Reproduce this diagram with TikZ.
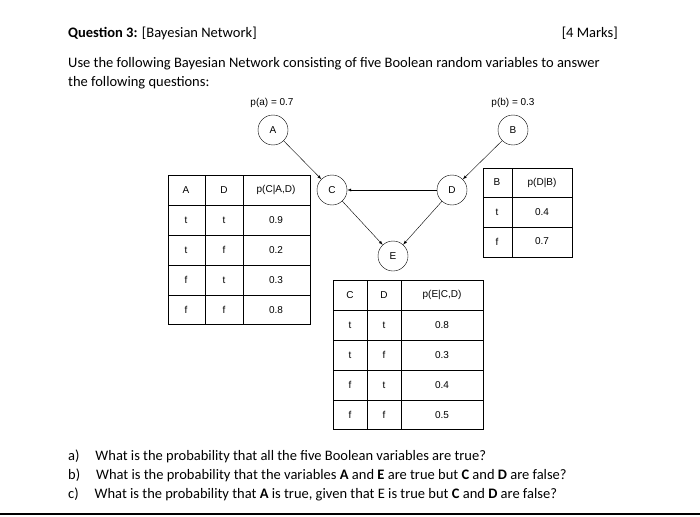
\documentclass[tikz,border=0pt]{standalone}
\usepackage{fontspec}
\setmainfont{Carlito}
\newfontfamily\arl{Liberation Sans}
\begin{document}
\begin{tikzpicture}[x=1pt,y=-1pt,
  nd/.style={draw,circle,minimum size=30pt,inner sep=0pt,font=\arl\fontsize{10}{12}\selectfont},
  tx/.style={font=\arl\fontsize{10}{12}\selectfont,inner sep=0pt},
  bt/.style={font=\fontsize{14.5}{17}\selectfont,anchor=base west,inner sep=0pt},
  ar/.style={-latex,thin}]
\useasboundingbox (0,0) rectangle (700,516);
\fill[white] (0,0) rectangle (700,516);
\node[bt] (t1) at (68,38) {\textbf{Question 3:} [Bayesian Network]};
\node[bt,anchor=base east] (t2) at (618,38) {[4 Marks]};
\node[bt] (t3) at (68,68) {Use the following Bayesian Network consisting of five Boolean random variables to answer};
\node[bt] (t4) at (68,87) {the following questions:};
\node[tx] (pa) at (272,103) {p(a) = 0.7};
\node[tx] (pb) at (513,103) {p(b) = 0.3};
\node[nd] (A) at (273,130) {A};
\node[nd] (B) at (513,130) {B};
\node[nd] (C) at (332,190) {C};
\node[nd] (D) at (452,190) {D};
\node[nd] (E) at (393,256) {E};
\draw[ar] (A) -- (C);
\draw[ar] (B) -- (D);
\draw[ar] (D) -- (C);
\draw[ar] (C) -- (E);
\draw[ar] (D) -- (E);
% table C
\draw (168,175) rectangle (310,324);
\foreach \y in {205,235,265,295} \draw (168,\y) -- (310,\y);
\foreach \x in {205,243} \draw (\x,175) -- (\x,324);
\foreach \a/\b/\c [count=\i] in {A/D/p(C|A{,}D),t/t/0.9,t/f/0.2,f/t/0.3,f/f/0.8}{
  \node[tx] (ca\i) at (186,160+30*\i) {\a};
  \node[tx] (cb\i) at (224,160+30*\i) {\b};
  \node[tx] (cc\i) at (276,160+30*\i) {\c};}
% table D
\draw (483,168) rectangle (572,257);
\draw (483,197) -- (572,197) (483,227) -- (572,227) (512,168) -- (512,257);
\foreach \a/\c [count=\i] in {B/p(D|B),t/0.4,f/0.7}{
  \node[tx] (da\i) at (497,153+29.5*\i) {\a};
  \node[tx] (dc\i) at (542,153+29.5*\i) {\c};}
% table E
\draw (333,280) rectangle (483,429);
\foreach \y in {310,340,370,400} \draw (333,\y) -- (483,\y);
\foreach \x in {367,401} \draw (\x,280) -- (\x,429);
\foreach \a/\b/\c [count=\i] in {C/D/p(E|C{,}D),t/t/0.8,t/f/0.3,f/t/0.4,f/f/0.5}{
  \node[tx] (ea\i) at (350,265+30*\i) {\a};
  \node[tx] (eb\i) at (384,265+30*\i) {\b};
  \node[tx] (ec\i) at (442,265+30*\i) {\c};}
\node[bt] (q1) at (68,460) {a)\hspace{1.1em}What is the probability that all the five Boolean variables are true?};
\node[bt] (q2) at (68,479) {b)\hspace{1.1em}What is the probability that the variables \textbf{A} and \textbf{E} are true but \textbf{C} and \textbf{D} are false?};
\node[bt] (q3) at (68,498) {c)\hspace{1.1em}What is the probability that \textbf{A} is true, given that E is true but \textbf{C} and \textbf{D} are false?};
\draw[line width=2pt] (0,514) -- (700,514);
\end{tikzpicture}
\end{document}
